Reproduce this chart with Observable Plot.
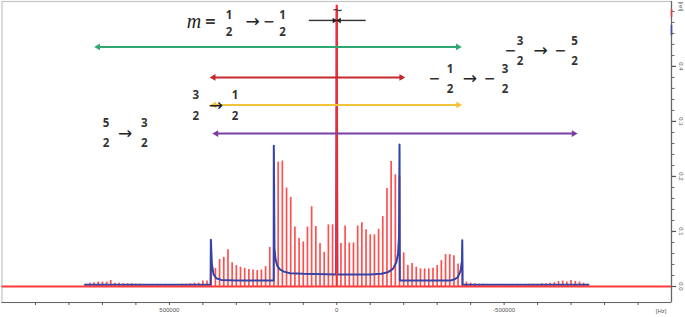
<!DOCTYPE html>
<html><head><meta charset="utf-8">
<script src="https://cdn.jsdelivr.net/npm/d3@7"></script>
<script src="https://cdn.jsdelivr.net/npm/@observablehq/plot@0.6"></script>
<style>
html,body{margin:0;padding:0;background:#fff;}
</style>
</head><body><div id="chart"></div>
<script>
// ---------- data ----------
const spinRateHz = 12500;
// sideband heights, n = 1..60, on the positive-frequency (left) side
const sidebandsPos = [0.112,0.112,0.062,0.078,0.109,0.145,0.108,0.081,0.087,0.108,
  0.162,0.179,0.228,0.226,0.200,0.071,0.036,0.030,0.029,0.030,
  0.031,0.033,0.035,0.038,0.043,0.067,0.053,0.049,0.033,0.040,
  0.010,0.010,0.006,0.006,0.005,0.004,0.004,0.003,0.003,0.003,
  0.003,0.003,0.003,0.003,0.003,0.003,0.004,0.004,0.005,0.005,
  0.005,0.006,0.006,0.011,0.008,0.008,0.008,0.007,0.006,0.004];
// sideband heights, n = 1..60, on the negative-frequency (right) side
const sidebandsNeg = [0.078,0.110,0.079,0.079,0.110,0.116,0.103,0.094,0.094,0.104,
  0.127,0.178,0.227,0.203,0.200,0.061,0.038,0.042,0.035,0.032,
  0.032,0.032,0.033,0.038,0.047,0.058,0.058,0.056,0.041,0.045,
  0.008,0.006,0.005,0.004,0.004,0.003,0.003,0.003,0.003,0.003,
  0.003,0.003,0.003,0.003,0.003,0.004,0.004,0.004,0.005,0.005,
  0.006,0.007,0.009,0.010,0.008,0.011,0.009,0.008,0.006,0.004];
const centralPeak = 0.511;

// static powder pattern (blue)
const staticHz  = [752000,377000,376000,373000,368000,360000,345000,300000,192000,188500,
  188000,186000,183000,178000,170000,158000,140000,100000,2000,0,
  -2000,-100000,-133000,-153000,-168000,-178000,-183000,-186000,-187500,-188500,
  -250000,-340000,-352000,-362000,-370000,-374000,-375000,-376000,-752000];
const staticRel = [0.003,0.003,0.085,0.040,0.022,0.015,0.012,0.011,0.011,0.011,
  0.256,0.070,0.050,0.038,0.031,0.027,0.024,0.023,0.022,0.500,
  0.022,0.022,0.023,0.026,0.032,0.044,0.059,0.090,0.258,0.011,
  0.011,0.011,0.013,0.017,0.029,0.047,0.084,0.003,0.003];

// transition arrows
const arrowNames  = ["green","red","yellow","purple"];
const arrowColors = ["#2fa872","#c3282c","#f5c23c","#7a3ea2"];
const arrowRel    = [0.4355,0.380,0.330,0.278];
const arrowFrom   = [713000,368000,366000,360000];
const arrowTo     = [-362000,-193000,-363000,-708000];

// axes
const xTicks = d3.range(-900000, 900001, 100000);
const xTickLabels = new Map([[500000,"500000"],[0,"0"],[-500000,"-500000"]]);
const yTicks = [0,0.1,0.2,0.3,0.4];
const yTickLabels = ["0.0","0.1","0.2","0.3","0.4"];
const yMinorTicks = d3.range(0, 26).map(i => i * 0.02);

// label tokens (text, Hz, rel, kind)
const labelTokens = [
  ["m", 426900, 0.4818, "m"], ["=", 377600, 0.4818, "op"],
  ["1", 321500, 0.4927, "d"], ["2", 321500, 0.4618, "d"],
  ["→", 251600, 0.4818, "arr"], ["−", 202100, 0.4818, "op"],
  ["1", 162100, 0.4927, "d"], ["2", 162100, 0.4618, "d"],

  ["−", -519400, 0.4291, "op"], ["3", -547200, 0.4464, "d"], ["2", -547200, 0.4100, "d"],
  ["→", -609000, 0.4291, "arr"], ["−", -668700, 0.4291, "op"],
  ["5", -710400, 0.4464, "d"], ["2", -710400, 0.4100, "d"],

  ["−", -292500, 0.3782, "op"], ["1", -338200, 0.3955, "d"], ["2", -338200, 0.3582, "d"],
  ["→", -397900, 0.3782, "arr"], ["−", -457600, 0.3782, "op"],
  ["3", -502400, 0.3955, "d"], ["2", -502400, 0.3582, "d"],

  ["3", 420900, 0.3473, "d"], ["2", 420900, 0.3091, "d"],
  ["→", 361200, 0.3282, "arr"],
  ["1", 303600, 0.3473, "d"], ["2", 303600, 0.3091, "d"],

  ["5", 689600, 0.2958, "d"], ["2", 689600, 0.2595, "d"],
  ["→", 631900, 0.2782, "arr"],
  ["3", 575200, 0.2958, "d"], ["2", 575200, 0.2595, "d"]
];

// ---------- build ----------
const xDomain = [1000000, -1000000];
const yDomain = [-0.0291, 0.518];

const sticks = [];
sidebandsPos.forEach((h, i) => sticks.push({hz: (i + 1) * spinRateHz, h}));
sidebandsNeg.forEach((h, i) => sticks.push({hz: -(i + 1) * spinRateHz, h}));
const staticPts = staticHz.map((hz, i) => ({hz, v: staticRel[i]}));
const tokens = labelTokens.map(([t, hz, y, kind]) => ({t, hz, y, kind}));

const arrowMarks = [];
arrowNames.forEach((name, i) => {
  const c = arrowColors[i];
  arrowMarks.push(Plot.ruleY([arrowRel[i]], {x1: arrowFrom[i], x2: arrowTo[i], stroke: c, strokeWidth: 2}));
  arrowMarks.push(Plot.dot([{x: arrowFrom[i], y: arrowRel[i], r: -90}, {x: arrowTo[i], y: arrowRel[i], r: 90}],
    {x: "x", y: "y", rotate: "r", symbol: "triangle2", r: 3.2, fill: c, stroke: null}));
});

const right = xDomain[1];
const chart = Plot.plot({
  width: 685, height: 317,
  marginLeft: 1.5, marginRight: 14, marginTop: 1, marginBottom: 15,
  style: {background: "#fff", fontFamily: "Liberation Sans, Arial, sans-serif"},
  x: {type: "linear", domain: xDomain},
  y: {type: "linear", domain: yDomain},
  marks: [
    Plot.frame({stroke: "#c4c4c4", strokeWidth: 1.2}),
    Plot.ruleX(sticks, {x: "hz", y1: 0, y2: "h", stroke: "#ff2a2a", strokeWidth: 1.7, strokeOpacity: 0.82}),
    Plot.line(staticPts, {x: "hz", y: "v", stroke: "#3244a8", strokeWidth: 2, curve: "linear"}),
    Plot.ruleY([0], {stroke: "#ff3a3a", strokeWidth: 1.8}),
    Plot.ruleX([0], {y1: 0, y2: centralPeak, stroke: "#ff2a2a", strokeWidth: 2.2}),
    ...arrowMarks,
    // small black arrows around the truncated central line
    Plot.ruleY([0.4836], {x1: 82000, x2: 7500, stroke: "#333", strokeWidth: 1.4}),
    Plot.ruleY([0.4836], {x1: -7500, x2: -88000, stroke: "#333", strokeWidth: 1.4}),
    Plot.dot([{x: 7500, r: 90}, {x: -7500, r: -90}], {x: "x", y: () => 0.4836, rotate: "r", symbol: "triangle2", r: 2.6, fill: "#222", stroke: null}),
    Plot.text(["~"], {x: () => -2000, y: () => 0.5018, text: d => d, fontSize: 17, fontFamily: "Liberation Sans, sans-serif", fill: "#333", lineAnchor: "middle"}),
    // transition labels
    Plot.text(tokens.filter(d => d.kind === "m"), {x: "hz", y: "y", text: "t", fontSize: 20, fontStyle: "italic", fontFamily: "Liberation Serif, serif", fill: "#222", lineAnchor: "middle"}),
    Plot.text(tokens.filter(d => d.kind === "op"), {x: "hz", y: "y", text: "t", fontSize: 14, fontWeight: "bold", fontFamily: "DejaVu Sans, sans-serif", fill: "#333", lineAnchor: "middle"}),
    Plot.text(tokens.filter(d => d.kind === "arr"), {x: "hz", y: "y", text: "t", fontSize: 17, fontFamily: "DejaVu Sans, sans-serif", fill: "#222", lineAnchor: "middle"}),
    Plot.text(tokens.filter(d => d.kind === "d"), {x: "hz", y: "y", text: "t", fontSize: 11.5, fontWeight: "bold", fontFamily: "Noto Sans, sans-serif", fill: "#333", lineAnchor: "middle"}),
    // bottom axis
    Plot.ruleY([yDomain[0]], {stroke: "#666", strokeWidth: 1.2}),
    Plot.axisX({ticks: xTicks, tickFormat: d => xTickLabels.get(d) ?? "", tickSize: 3, tickPadding: 2, fontSize: 6, color: "#555", label: null}),
    Plot.text(["[Hz]"], {x: () => -969000, y: () => yDomain[0], dy: 9, text: d => d, fontSize: 6, fill: "#555"}),
    // right axis
    Plot.ruleX([right], {stroke: "#666", strokeWidth: 1.2}),
    Plot.axisY({anchor: "right", ticks: yMinorTicks, tickFormat: () => "", tickSize: 2.5, color: "#666", label: null}),
    Plot.axisY({anchor: "right", ticks: yTicks, tickFormat: () => "", tickSize: 4, color: "#555", strokeWidth: 1.2, label: null}),
    Plot.text(yTicks, {x: () => right, y: d => d, dx: 9, text: (d, i) => yTickLabels[i], rotate: 90, fontSize: 6, fill: "#555"}),
    Plot.text(["[rel]"], {x: () => right, y: () => 0.509, dx: 9, text: d => d, rotate: 90, fontSize: 6, fill: "#555"}),
    Plot.ruleX([right], {y1: 0.489, y2: 0.503, stroke: "#e04040", strokeWidth: 1.6}),
    Plot.ruleX([right], {y1: 0.456, y2: 0.4745, stroke: "#3a4ab0", strokeWidth: 1.6})
  ]
});
document.getElementById("chart").appendChild(chart);
</script>
</body></html>
